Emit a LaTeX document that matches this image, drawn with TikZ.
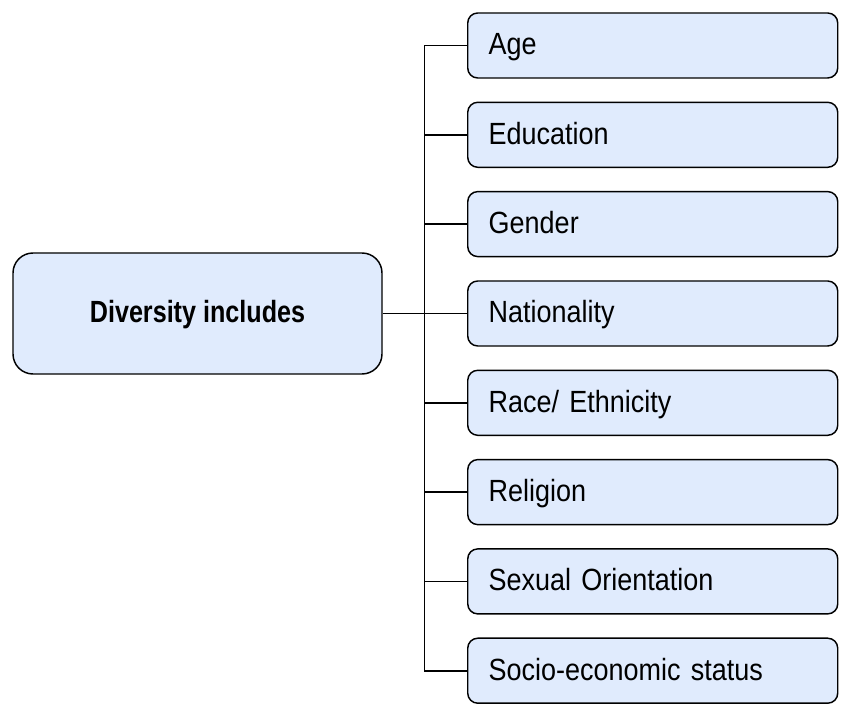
\documentclass[tikz,border=0pt]{standalone}
\usepackage{fontspec}
\setmainfont{Liberation Sans}[FakeStretch=0.88,BoldFeatures={FakeStretch=0.82}]
\begin{document}
\begin{tikzpicture}[x=0.75pt,y=-0.75pt,
  box/.style={draw=black, line width=1.1pt, fill=boxblue, rounded corners=7.5pt,
    minimum height=48.75pt, text width=246pt, inner xsep=15.75pt, align=left,
    text height=17pt, text depth=2.8pt,
    anchor=west, font=\fontsize{23}{26}\selectfont},
  mainbox/.style={draw=black, line width=1.1pt, fill=boxblue, rounded corners=15pt,
    minimum width=276.75pt, minimum height=90.75pt, align=center,
    text height=17pt, text depth=2.8pt,
    font=\fontsize{23}{26}\selectfont\bfseries},
  conn/.style={line width=1.3pt, draw=black}]
\definecolor{boxblue}{HTML}{E0EBFD}
\useasboundingbox (0,0) rectangle (861,720);
\node[mainbox] (main) at (197.5,313.5) {Diversity includes};
\node[box] (age) at (467,45.5) {Age};
\node[box] (edu) at (467,134.8) {Education};
\node[box] (gen) at (467,224.1) {Gender};
\node[box] (nat) at (467,313.5) {Nationality};
\node[box] (rac) at (467,402.8) {Race/ Ethnicity};
\node[box] (rel) at (467,492.1) {Religion};
\node[box] (sex) at (467,581.4) {Sexual Orientation};
\node[box] (soc) at (467,670.7) {Socio-economic status};
\coordinate (ttop) at (424.5,45.5);
\coordinate (tbot) at (424.5,670.7);
\draw[conn] (age.west) -- (ttop) -- (tbot) -- (soc.west);
\foreach \n in {edu,gen,rac,rel,sex} {
  \draw[conn] (\n.west) -- (\n.west -| ttop);
}
\draw[conn] (main.east) -- (nat.west);
\end{tikzpicture}
\end{document}
